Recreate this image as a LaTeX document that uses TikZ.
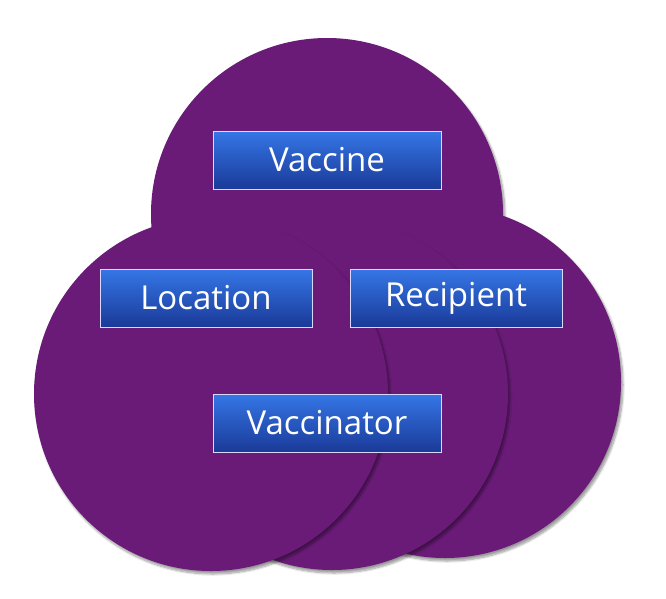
\documentclass[tikz,border=0pt]{standalone}
\usepackage{fontspec}
\setmainfont{Open Sans}
\usetikzlibrary{shadows.blur}
\definecolor{disc}{HTML}{6A1B78}
\definecolor{boxtop}{HTML}{3576E6}
\definecolor{boxbot}{HTML}{1A3A98}
\tikzset{
  discfill/.style={fill=disc,blur shadow={shadow blur steps=8,shadow xshift=2pt,shadow yshift=-3pt,shadow opacity=40}},
  labelbox/.style={draw=white!85!blue,line width=0.8pt,top color=boxtop,bottom color=boxbot,
    text=white,font=\fontsize{33}{36}\selectfont,minimum height=58pt,inner sep=0pt}
}
\begin{document}
\begin{tikzpicture}[x=1pt,y=-1pt]
\useasboundingbox (0,0) rectangle (666,598);
% Discs, back to front
\fill[discfill] (327,214) circle (176);
\fill[discfill] (445,382) circle (176);
\fill[discfill] (332,394) circle (176);
\fill[discfill] (211,394) circle (177);

% Labels
\node[labelbox,minimum width=228pt] (vaccine) at (327,160) {Vaccine};
\node[labelbox,minimum width=212pt] (location) at (206,298) {Location};
\node[labelbox,minimum width=212pt] (recipient) at (456,298) {Recipient};
\node[labelbox,minimum width=228pt] (vaccinator) at (327,423) {Vaccinator};
\end{tikzpicture}
\end{document}
